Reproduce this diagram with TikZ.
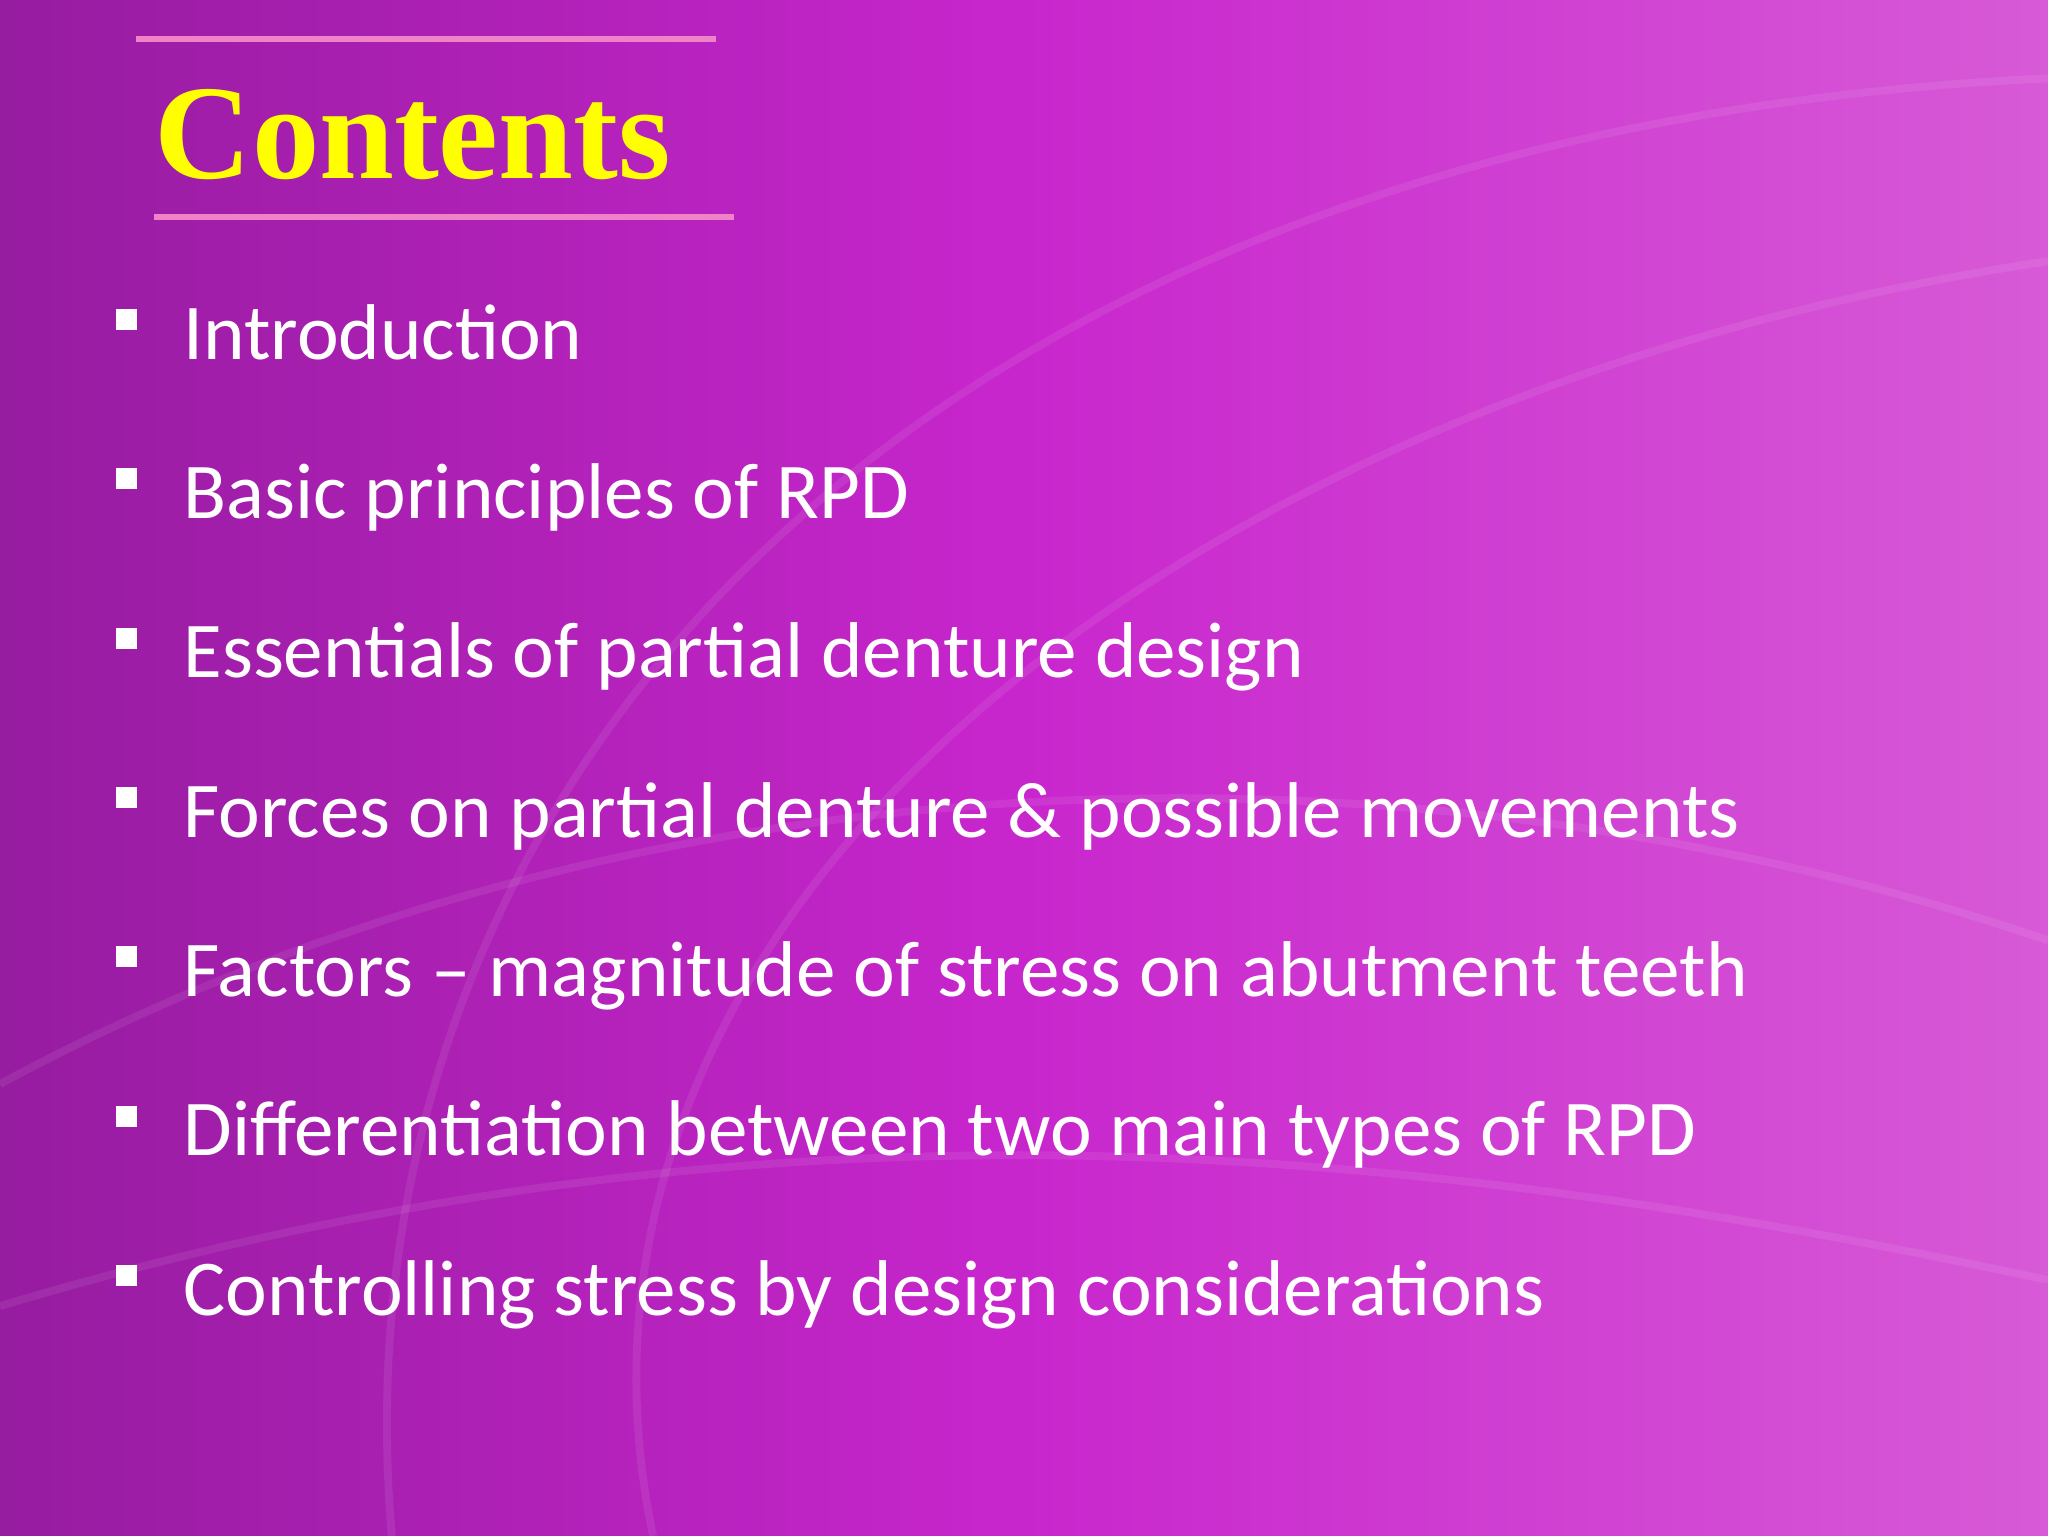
\documentclass[tikz,border=0pt]{standalone}
\usepackage{fontspec}
\setmainfont{Carlito}
\newfontfamily\titlefont{Liberation Serif}
\begin{document}
\begin{tikzpicture}[x=0.01306cm,y=-0.01306cm,
  item/.style={anchor=base west,inner sep=0pt,text=white,font=\fontsize{22.5pt}{27pt}\selectfont},
  bul/.style={fill=white,draw=none,minimum size=16*0.01306cm,inner sep=0pt,anchor=north west},
  rule/.style={draw={rgb,255:red,240;green,130;blue,200},line width=5*0.01306cm}]
\definecolor{bgL}{RGB}{150,28,160}
\definecolor{bgM}{RGB}{200,38,205}
\definecolor{bgR}{RGB}{215,90,215}
\useasboundingbox (0,0) rectangle (1568,1176);
\shade[left color=bgL,right color=bgR,middle color=bgM] (0,0) rectangle (1568,1176);
\shade[top color=bgL,bottom color=bgL,middle color=bgM,opacity=0.0] (0,0) rectangle (1568,1176);
\begin{scope}[white,opacity=0.08,line width=6*0.01306cm]
\draw (300,1176) .. controls (250,600) and (700,100) .. (1568,60);
\draw (500,1176) .. controls (400,700) and (900,300) .. (1568,200);
\draw (0,830) .. controls (500,560) and (1100,560) .. (1568,720);
\draw (0,1000) .. controls (600,820) and (1100,880) .. (1568,980);
\end{scope}
\draw[rule] (104,30) -- (548,30);
\draw[rule] (118,166) -- (562,166);
\node[anchor=base west,inner sep=0pt,text={rgb,255:red,255;green,255;blue,0},font=\titlefont\bfseries\fontsize{38.3pt}{44pt}\selectfont] (title) at (118,137) {Contents};
\foreach \i/\t in {0/Introduction,1/Basic principles of RPD,2/Essentials of partial denture design,3/Forces on partial denture \& possible movements,4/Factors – magnitude of stress on abutment teeth,5/Differentiation between two main types of RPD,6/Controlling stress by design considerations}{
  \node[bul] (b\i) at (88,236+122*\i) {};
  \node[item] (t\i) at (140,275+122*\i) {\t};
}
\end{tikzpicture}
\end{document}
